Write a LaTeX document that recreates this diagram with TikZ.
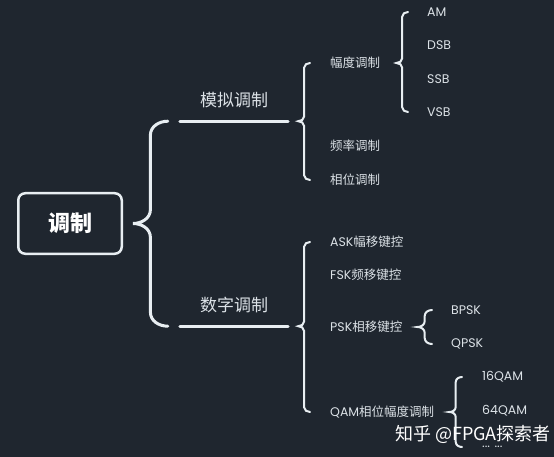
\documentclass[tikz,border=0pt]{standalone}
\usepackage{fontspec}
\setmainfont{Poppins}
\newfontfamily\cjk{Noto Sans CJK SC}
\newcommand{\zh}[1]{{\cjk #1}}
\usetikzlibrary{calc}

\definecolor{bgdark}{RGB}{31,38,47}
\definecolor{linewhite}{RGB}{232,238,242}
\definecolor{textgray}{RGB}{220,226,231}

% curly bracket: tip, top end, bottom end
\newcommand{\fork}[4][branch]{%
  \path let \p1=#2, \p2=#3, \p3=#4 in
    coordinate (tip) at (\p1)
    coordinate (top) at (\p2)
    coordinate (bot) at (\p3)
    coordinate (top1) at ({(\x1+\x2)/2},{\y2-0.4*(\x2-\x1)})
    coordinate (tip1) at ({(\x1+\x2)/2},{\y1+0.4*(\x2-\x1)})
    coordinate (tip2) at ({(\x1+\x2)/2},{\y1-0.4*(\x2-\x1)})
    coordinate (bot1) at ({(\x1+\x2)/2},{\y3+0.4*(\x2-\x1)});
  \draw[#1] (top) to[out=180,in=90] (top1) -- (tip1) to[out=-90,in=0] (tip)
    to[out=0,in=90] (tip2) -- (bot1) to[out=-90,in=180] (bot);
}

\begin{document}
\begin{tikzpicture}[x=1pt, y=-1pt,
    branch/.style={draw=linewhite, line width=2pt, line cap=round},
    bigbranch/.style={branch, line width=3pt},
    level1/.style={text=textgray, font=\cjk\fontsize{17}{20}\selectfont,
      minimum width=108pt, minimum height=42pt, inner sep=0pt},
    leaf/.style={text=textgray, font=\fontsize{12.5}{15}\selectfont,
      anchor=west, inner sep=0pt}]
    % Background
    \useasboundingbox (0,0) rectangle (554,457);
    \fill[bgdark] (0,0) rectangle (554,457);

    % Root
    \node[draw=linewhite, line width=2.5pt, rounded corners=7pt,
      minimum width=103.5pt, minimum height=60.5pt, text=white,
      font=\cjk\bfseries\fontsize{22}{24}\selectfont] (root) at (70,223.5) {调制};

    % Analog / digital
    \node[level1] (analog) at (234,100) {模拟调制};
    \node[level1] (digital) at (234,305) {数字调制};
    \draw[bigbranch] (analog.south west) -- (analog.south east);
    \draw[bigbranch] (digital.south west) -- (digital.south east);
    \fork[bigbranch]{($(root.east)+(10,0)$)}{($(analog.south west)+(-12,0)$)}{($(digital.south west)+(-12,0)$)}

    % Analog branches
    \node[leaf] (amp) at (330,63) {\zh{幅度调制}};
    \node[leaf] (freq) at (330,146) {\zh{频率调制}};
    \node[leaf] (phase) at (330,180) {\zh{相位调制}};
    \fork{($(analog.south east)+(10,0)$)}{($(amp.west)+(-20,0)$)}{($(phase.west)+(-20,0)$)}

    \node[leaf] (am) at (427,12) {AM};
    \node[leaf] (dsb) at (427,45) {DSB};
    \node[leaf] (ssb) at (427,79) {SSB};
    \node[leaf] (vsb) at (427,112) {VSB};
    \fork{($(amp.east)+(16,0)$)}{($(am.west)+(-19,0)$)}{($(vsb.west)+(-19,0)$)}

    % Digital branches
    \node[leaf] (ask) at (330,242) {ASK\zh{幅移键控}};
    \node[leaf] (fsk) at (330,275) {FSK\zh{频移键控}};
    \node[leaf] (psk) at (330,327) {PSK\zh{相移键控}};
    \node[leaf] (qam) at (330,412) {QAM\zh{相位幅度调制}};
    \fork{($(digital.south east)+(10,0)$)}{($(ask.west)+(-20,0)$)}{($(qam.west)+(-20,0)$)}

    \node[leaf] (bpsk) at (451,310) {BPSK};
    \node[leaf] (qpsk) at (451,344) {QPSK};
    \fork{($(psk.east)+(15,0)$)}{($(bpsk.west)+(-19,0)$)}{($(qpsk.west)+(-19,0)$)}

    \node[leaf] (qam16) at (482,377) {16QAM};
    \node[leaf] (qam64) at (482,411) {64QAM};
    \node[leaf] (more) at (482,447) {... ...};
    \fork{($(qam.east)+(15,0)$)}{($(qam16.west)+(-20,0)$)}{($(more.west)+(-20,0)$)}

    % Watermark
    \node[text=white, font=\cjk\fontsize{18}{20}\selectfont, anchor=west,
      inner sep=0pt] (mark) at (395,434) {知乎 @FPGA探索者};
\end{tikzpicture}
\end{document}
